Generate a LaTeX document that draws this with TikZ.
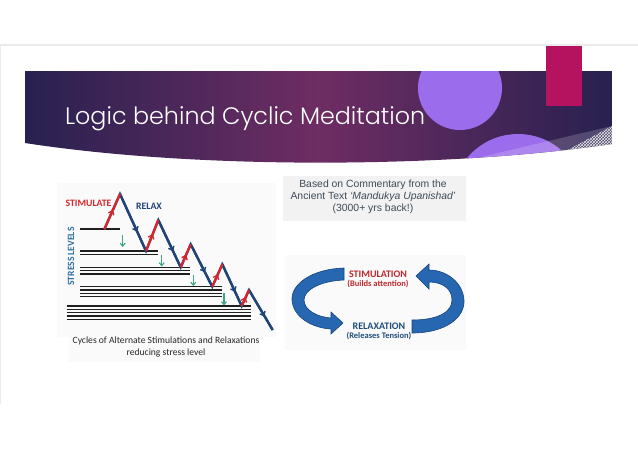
\documentclass[tikz,border=0pt]{standalone}
\usepackage{fontspec}
\usepackage{tikz}
\usetikzlibrary{arrows.meta,positioning,decorations.markings,patterns}
\setmainfont{Carlito}
\newfontfamily\titlefont{Poppins Light}
\newfontfamily\arialfont{Liberation Sans}
\definecolor{bannerdark}{HTML}{282150}
\definecolor{bannermid}{HTML}{6E2D63}
\definecolor{lilac}{HTML}{9B6CEB}
\definecolor{crimson}{HTML}{B5135F}
\definecolor{stimred}{HTML}{D7262B}
\definecolor{relaxblue}{HTML}{1F4478}
\definecolor{levelteal}{HTML}{2E6F9E}
\definecolor{downgreen}{HTML}{3AA682}
\definecolor{notegray}{HTML}{3E4A58}
\definecolor{cycred}{HTML}{C0272D}
\definecolor{cycblue}{HTML}{1F4E79}
\definecolor{cycleblue}{HTML}{2766B0}
\definecolor{cycleedge}{HTML}{16457F}

\begin{document}
\begin{tikzpicture}[x=1pt,y=-1pt,
  zig/.style={line width=2.3pt},
  upline/.style={zig,stimred,postaction={decorate},decoration={markings,mark=at position 0.55 with {\arrow{Straight Barb[length=3.5pt,width=6pt,line width=1.4pt]}}}},
  downline/.style={zig,relaxblue,postaction={decorate},decoration={markings,mark=at position 0.66 with {\arrow{Straight Barb[length=3.5pt,width=6pt,line width=1.4pt]}}}},
  level/.style={line width=1.4pt,black!88},
  drop/.style={-{Straight Barb[length=3pt,width=5pt]},line width=1.1pt,downgreen},
  tag/.style={font=\bfseries\fontsize{9.8}{11}\selectfont,inner sep=0pt},
  caption/.style={font=\fontsize{9.6}{12}\selectfont,text=black!85,align=center,inner sep=0pt},
  note/.style={font=\arialfont\fontsize{10.4}{12}\selectfont,text=notegray,align=center,inner sep=0pt},
  cyctag/.style={font=\bfseries\fontsize{10}{12}\selectfont,inner sep=0pt},
  cycsub/.style={font=\bfseries\fontsize{8.5}{10}\selectfont,inner sep=0pt},
  ribbon/.style={fill=cycleblue,draw=cycleedge,line width=0.6pt}
]
  \useasboundingbox (0,0) rectangle (638,451);
  \fill[white] (0,0) rectangle (638,451);
  \draw[black!8,line width=1.2pt] (0,45) -- (638,45);
  \draw[black!8,line width=1pt] (0.6,45) -- (0.6,404);

  \begin{scope}
    \clip (25,71) -- (612,71) -- (612,144) .. controls (450,168) and (200,170) .. (25,143) -- cycle;
    \shade[left color=bannerdark,right color=bannerdark,middle color=bannermid] (25,71) rectangle (612,175);
    \fill[lilac] (460,88) circle (42);
    \fill[pattern=crosshatch,pattern color=white!75!gray] (540,165) -- (612,126) -- (612,175) -- cycle;
    \fill[lilac] (518,200) circle (66);
    \fill[white,opacity=0.18] (460,162) -- (612,126) -- (612,175) -- (460,175) -- cycle;
  \end{scope}
  \fill[crimson] (546,46) rectangle (582,106);
  \node[anchor=base west,text=white,font=\titlefont\fontsize{23.8}{28}\selectfont,inner sep=0pt] (title) at (65,124) {Logic behind Cyclic Meditation};

  \fill[black!2] (57,183) rectangle (276,337);
  \fill[black!2] (69,337) rectangle (260,362);
  \fill[black!5] (283,176) rectangle (466,221);
  \fill[black!2] (285,255) rectangle (466,350);

  \foreach \k/\y/\xa/\xb in {1/229/80/120, 2/251/80/158, 3/267.3/80/190, 4/286.7/80/221.7, 5/306/66.7/251}
    \foreach \j in {1,...,\k}
      \draw[level] (\xa,{\y+(\j-1)*3.3}) -- (\xb,{\y+(\j-1)*3.3});

  \coordinate (z0) at (104.3,229.3);
  \coordinate (z1) at (120,194);
  \coordinate (z2) at (146,251);
  \coordinate (z3) at (158.3,220);
  \coordinate (z4) at (180.7,267.3);
  \coordinate (z5) at (190.7,244.3);
  \coordinate (z6) at (212.3,286.7);
  \coordinate (z7) at (222.3,264.3);
  \coordinate (z8) at (241.7,306);
  \coordinate (z9) at (249,290);
  \coordinate (z10) at (272.7,330);
  \draw[zig,relaxblue] (z0) -- (z1) -- (z2) -- (z3) -- (z4) -- (z5) -- (z6) -- (z7) -- (z8) -- (z9) -- (z10);
  \foreach \a/\b in {z1/z2, z3/z4, z5/z6, z7/z8, z9/z10}
    \draw[downline] (\a) -- (\b);
  \foreach \a/\b in {z0/z1, z2/z3, z4/z5, z6/z7, z8/z9}
    \draw[upline] (\a) -- (\b);

  \foreach \x/\ya/\yb in {122.7/235/247, 161.7/255/266.5, 193.3/275/286, 224/293.3/305.5}
    \draw[drop] (\x,\ya) -- (\x,\yb);

  \node[tag,text=stimred] (stimtag) at (88.5,203) {STIMULATE};
  \node[tag,text=relaxblue] (relaxtag) at (149,206) {RELAX};
  \node[tag,text=levelteal,rotate=90,font=\bfseries\fontsize{9.6}{11}\selectfont] (leveltag) at (71,256.5) {STRESS LEVELS};
  \node[caption] (caption) at (166,347) {Cycles of Alternate Stimulations and Relaxations\\reducing stress level};

  \node[note] (note) at (373,197) {Based on Commentary from the\\Ancient Text \textit{‘Mandukya Upanishad’}\\(3000+ yrs back!)};

  \fill[ribbon] (344,268) .. controls (312,269) and (291,284) .. (292,300) .. controls (293,317) and (312,328) .. (331,329) -- (331,334) -- (343,323) -- (331,312) -- (331,318) .. controls (317,317) and (304,310) .. (304,300) .. controls (304,290) and (320,281) .. (344,280) -- cycle;
  \fill[ribbon] (412,320) -- (412,333) .. controls (445,333) and (465,318) .. (464,300) .. controls (463,283) and (447,270) .. (429,270) -- (429,264) -- (416,276) -- (429,289) -- (429,282) .. controls (444,282) and (452,290) .. (452,300) .. controls (452,312) and (438,320) .. (412,320) -- cycle;

  \node[cyctag,text=cycred] (stim) at (378,274) {STIMULATION};
  \node[cycsub,text=cycred,below=2pt of stim] (stimsub) {(Builds attention)};
  \node[cyctag,text=cycblue] (relax) at (379,326) {RELAXATION};
  \node[cycsub,text=cycblue,below=2pt of relax] (relaxsub) {(Releases Tension)};
\end{tikzpicture}
\end{document}
